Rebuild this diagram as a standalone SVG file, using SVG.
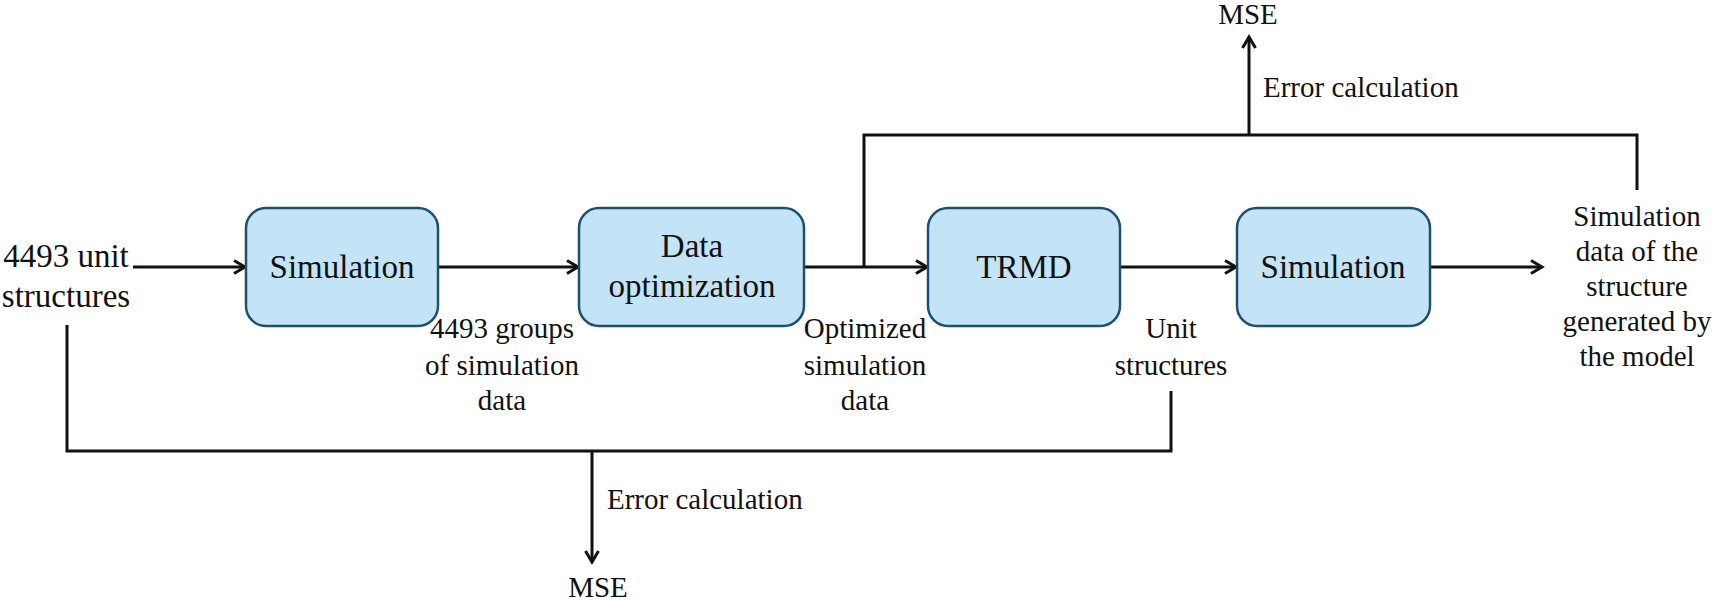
<svg xmlns="http://www.w3.org/2000/svg" width="1716" height="601" viewBox="0 0 1716 601">
<style>
.box{fill:#c3e4f6;stroke:#1d4f6e;stroke-width:2.5}
.bt{font-family:"Liberation Serif","Times New Roman",serif;font-size:33px;fill:#111;text-anchor:middle}
.lb{font-family:"Liberation Serif","Times New Roman",serif;font-size:29px;fill:#111;text-anchor:middle}
.lbs{font-family:"Liberation Serif","Times New Roman",serif;font-size:29px;fill:#111;text-anchor:start}
.big{font-family:"Liberation Serif","Times New Roman",serif;font-size:33px;fill:#111;text-anchor:middle}
.ln{fill:none;stroke:#111;stroke-width:3}
.ar{fill:none;stroke:#111;stroke-width:3;marker-end:url(#ah)}
</style>
<defs>
<marker id="ah" markerWidth="16" markerHeight="16" refX="13" refY="8" orient="auto" markerUnits="userSpaceOnUse">
<path d="M2,1.5 L13,8 L2,14.5" fill="none" stroke="#111" stroke-width="3" stroke-linejoin="miter"/>
</marker>
</defs>
<rect width="1716" height="601" fill="#fff"/>
<g id="connectors">
<line class="ar" x1="133" y1="267" x2="245" y2="267"/>
<line class="ar" x1="438" y1="267" x2="578" y2="267"/>
<line class="ar" x1="804" y1="267" x2="927" y2="267"/>
<line class="ar" x1="1120" y1="267" x2="1236" y2="267"/>
<line class="ar" x1="1430" y1="267" x2="1542" y2="267"/>
<polyline class="ln" points="864,267 864,135 1637,135 1637,190"/>
<line class="ar" x1="1249" y1="135" x2="1249" y2="37"/>
<polyline class="ln" points="67,325 67,451 1171,451 1171,391"/>
<line class="ar" x1="592" y1="451" x2="592" y2="562"/>
</g>
<g id="input">
<text class="big" x="66" y="267">4493 unit</text>
<text class="big" x="66" y="307">structures</text>
</g>
<g id="sim1">
<rect class="box" x="246" y="208" width="192" height="118" rx="20"/>
<text class="bt" x="342" y="278">Simulation</text>
</g>
<g id="dataopt">
<rect class="box" x="579" y="208" width="225" height="118" rx="20"/>
<text class="bt" x="692" y="257">Data</text>
<text class="bt" x="692" y="297">optimization</text>
</g>
<g id="trmd">
<rect class="box" x="928" y="208" width="192" height="118" rx="20"/>
<text class="bt" x="1024" y="278">TRMD</text>
</g>
<g id="sim2">
<rect class="box" x="1237" y="208" width="193" height="118" rx="20"/>
<text class="bt" x="1333" y="278">Simulation</text>
</g>
<g id="output">
<text class="lb" x="1637" y="226">Simulation</text>
<text class="lb" x="1637" y="261">data of the</text>
<text class="lb" x="1637" y="296">structure</text>
<text class="lb" x="1637" y="331">generated by</text>
<text class="lb" x="1637" y="366">the model</text>
</g>
<g id="labels">
<text class="lb" x="502" y="338">4493 groups</text>
<text class="lb" x="502" y="375">of simulation</text>
<text class="lb" x="502" y="410">data</text>
<text class="lb" x="865" y="338">Optimized</text>
<text class="lb" x="865" y="375">simulation</text>
<text class="lb" x="865" y="410">data</text>
<text class="lb" x="1171" y="338">Unit</text>
<text class="lb" x="1171" y="375">structures</text>
</g>
<g id="mse-top">
<text class="lb" x="1248" y="24">MSE</text>
<text class="lbs" x="1263" y="97">Error calculation</text>
</g>
<g id="mse-bottom">
<text class="lbs" x="607" y="509">Error calculation</text>
<text class="lb" x="598" y="597">MSE</text>
</g>
</svg>
